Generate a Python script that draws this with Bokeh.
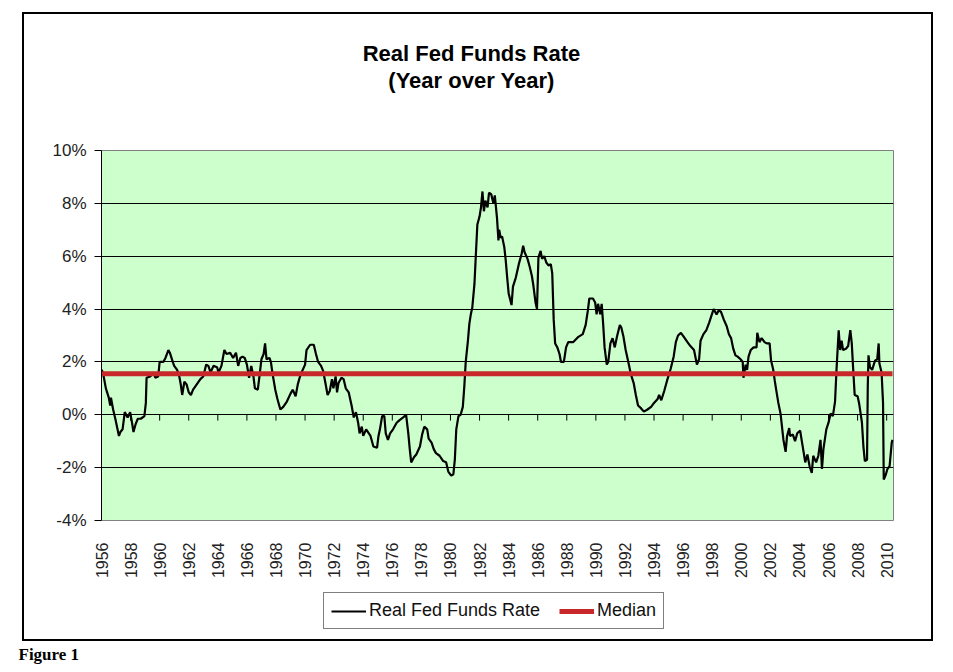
import math

from bokeh.embed import file_html
from bokeh.layouts import column
from bokeh.models import FixedTicker, Label, Legend, LegendItem, Range1d, Title
from bokeh.plotting import figure
from bokeh.resources import INLINE

# Real fed funds rate, year over year (%), sampled at turning points
years = [
    1956.0, 1956.1, 1956.3, 1956.5, 1956.6, 1956.65, 1956.8, 1956.95, 1957.2, 1957.3,
    1957.45, 1957.6, 1957.8, 1957.97, 1958.1, 1958.2, 1958.35, 1958.5, 1958.7, 1958.95,
    1959.05, 1959.1, 1959.35, 1959.6, 1959.7, 1959.9, 1960.0, 1960.25, 1960.4, 1960.6,
    1960.7, 1960.9, 1961.0, 1961.2, 1961.35, 1961.45, 1961.55, 1961.7, 1961.85, 1962.0,
    1962.15, 1962.3, 1962.55, 1962.8, 1963.0, 1963.2, 1963.35, 1963.5, 1963.7, 1963.95,
    1964.05, 1964.25, 1964.45, 1964.6, 1964.85, 1965.05, 1965.25, 1965.4, 1965.55, 1965.7,
    1965.85, 1966.0, 1966.15, 1966.3, 1966.45, 1966.55, 1966.75, 1966.85, 1967.0, 1967.15,
    1967.25, 1967.35, 1967.55, 1967.65, 1967.75, 1967.95, 1968.1, 1968.3, 1968.5, 1968.75,
    1969.0, 1969.15, 1969.35, 1969.5, 1969.65, 1969.8, 1970.0, 1970.1, 1970.35, 1970.6,
    1970.75, 1970.9, 1971.1, 1971.25, 1971.4, 1971.55, 1971.7, 1971.85, 1971.95, 1972.1,
    1972.2, 1972.3, 1972.5, 1972.65, 1972.8, 1973.0, 1973.2, 1973.35, 1973.5, 1973.65,
    1973.75, 1973.9,
    1974.0, 1974.2, 1974.5, 1974.7, 1974.95, 1975.05, 1975.15, 1975.3, 1975.45, 1975.55,
    1975.7, 1975.85, 1976.05, 1976.3, 1976.5, 1976.75, 1976.95, 1977.1, 1977.2, 1977.3,
    1977.5, 1977.65, 1977.9, 1978.05, 1978.2, 1978.4, 1978.5, 1978.7, 1978.85, 1979.0,
    1979.25, 1979.5, 1979.7, 1979.85, 1980.05, 1980.2, 1980.3, 1980.4, 1980.55, 1980.7,
    1980.85, 1980.95, 1981.05, 1981.2, 1981.3, 1981.4, 1981.5, 1981.65, 1981.75, 1981.85,
    1982.0, 1982.1, 1982.2, 1982.3, 1982.4, 1982.55, 1982.65, 1982.8, 1982.95, 1983.05,
    1983.2, 1983.3, 1983.35, 1983.45, 1983.55, 1983.7, 1983.8, 1983.9, 1984.0, 1984.2,
    1984.3, 1984.5, 1984.7, 1984.9, 1985.0, 1985.1, 1985.3, 1985.45, 1985.6, 1985.7,
    1985.85, 1985.95, 1986.05, 1986.2, 1986.3, 1986.45, 1986.6, 1986.75, 1986.9, 1987.0,
    1987.1, 1987.2, 1987.35, 1987.5, 1987.6, 1987.8, 1987.95, 1988.1, 1988.45, 1988.8,
    1989.1, 1989.3, 1989.45, 1989.55, 1989.8, 1989.95, 1990.05, 1990.15, 1990.3, 1990.4,
    1990.5, 1990.6, 1990.75, 1990.85, 1991.0, 1991.15, 1991.3, 1991.45, 1991.65, 1991.75,
    1991.9,
    1992.05, 1992.25, 1992.4, 1992.6, 1992.75, 1992.9, 1993.1, 1993.3, 1993.55, 1993.8,
    1994.0, 1994.25, 1994.35, 1994.5, 1994.7, 1994.9, 1995.15, 1995.35, 1995.5, 1995.65,
    1995.85, 1996.05, 1996.3, 1996.5, 1996.75, 1996.95, 1997.1, 1997.2, 1997.4, 1997.6,
    1997.8, 1997.95, 1998.1, 1998.3, 1998.45, 1998.6, 1998.8, 1999.0, 1999.15, 1999.3,
    1999.45, 1999.6, 1999.75, 1999.95, 2000.1, 2000.15, 2000.3, 2000.4, 2000.5, 2000.65,
    2000.85, 2001.05, 2001.1, 2001.25, 2001.4, 2001.6, 2001.75, 2001.95, 2002.05, 2002.2,
    2002.3, 2002.4, 2002.55, 2002.7, 2002.8, 2002.9, 2003.05, 2003.15, 2003.3, 2003.35,
    2003.55, 2003.7, 2003.85, 2004.05, 2004.15, 2004.3, 2004.4, 2004.55, 2004.7, 2004.85,
    2004.95, 2005.15, 2005.3, 2005.45, 2005.55, 2005.65, 2005.85, 2006.0, 2006.15, 2006.3,
    2006.45, 2006.55, 2006.7, 2006.8, 2006.9, 2007.0, 2007.2, 2007.35, 2007.5, 2007.6,
    2007.7, 2007.8, 2008.0, 2008.1, 2008.3, 2008.4, 2008.5, 2008.65, 2008.7, 2008.75,
    2008.85, 2009.0, 2009.2, 2009.35, 2009.45, 2009.5, 2009.65, 2009.75, 2009.8, 2009.95,
    2010.05, 2010.2, 2010.35, 2010.4,
]
rate = [
    1.7, 1.6, 1.0, 0.65, 0.35, 0.65, 0.2, -0.15, -0.8, -0.65,
    -0.55, 0.1, -0.1, 0.1, -0.3, -0.65, -0.35, -0.15, -0.15, -0.05,
    0.45, 1.4, 1.45, 1.6, 1.4, 1.45, 2.0, 2.0, 2.15, 2.45,
    2.35, 2.0, 1.85, 1.7, 1.45, 1.15, 0.75, 1.25, 1.15, 0.85,
    0.75, 0.95, 1.15, 1.35, 1.45, 1.9, 1.85, 1.6, 1.85, 1.8,
    1.6, 1.85, 2.45, 2.3, 2.35, 2.15, 2.35, 1.85, 2.15, 2.2,
    2.15, 1.9, 1.4, 1.85, 1.45, 1.0, 0.95, 1.4, 2.1, 2.3,
    2.7, 2.1, 2.15, 2.0, 1.6, 0.95, 0.6, 0.2, 0.3, 0.5,
    0.8, 0.95, 0.7, 1.15, 1.45, 1.65, 1.9, 2.45, 2.65, 2.65,
    2.3, 2.0, 1.85, 1.65, 1.2, 0.75, 0.9, 1.35, 1.0, 1.45,
    0.85, 1.2, 1.4, 1.35, 1.0, 0.85, 0.35, -0.1, 0.1, -0.3,
    -0.7, -0.45,
    -0.8, -0.55, -0.8, -1.2, -1.25, -0.8, -0.55, -0.05, -0.05, -0.7,
    -0.95, -0.7, -0.55, -0.3, -0.2, -0.1, 0.0, -0.7, -1.3, -1.8,
    -1.6, -1.5, -1.2, -0.75, -0.45, -0.55, -0.9, -1.05, -1.3, -1.45,
    -1.55, -1.75, -1.8, -2.15, -2.3, -2.25, -1.7, -0.55, -0.05, 0.0,
    0.3, 1.05, 2.0, 2.8, 3.45, 3.8, 4.05, 4.95, 6.1, 7.2,
    7.5, 7.85, 8.45, 7.7, 8.1, 7.85, 8.4, 8.35, 8.0, 8.3,
    7.45, 6.6, 7.0, 6.7, 6.75, 6.35, 5.85, 5.2, 4.6, 4.15,
    4.85, 5.2, 5.7, 6.1, 6.4, 6.15, 5.9, 5.6, 5.25, 4.9,
    4.25, 4.0, 5.95, 6.2, 5.9, 6.0, 5.75, 5.65, 5.7, 5.35,
    3.6, 2.7, 2.55, 2.3, 2.0, 2.0, 2.55, 2.75, 2.75, 2.95,
    3.05, 3.4, 3.95, 4.4, 4.4, 4.25, 3.8, 4.2, 3.8, 4.2,
    3.45, 2.55, 1.9, 2.0, 2.7, 2.9, 2.55, 2.95, 3.4, 3.3,
    2.95,
    2.45, 1.95, 1.55, 1.2, 0.75, 0.35, 0.25, 0.12, 0.2, 0.3,
    0.45, 0.6, 0.75, 0.55, 0.9, 1.3, 1.75, 2.2, 2.75, 3.0,
    3.1, 2.95, 2.75, 2.6, 2.45, 1.9, 2.1, 2.8, 3.05, 3.2,
    3.5, 3.75, 4.0, 3.8, 3.95, 3.9, 3.6, 3.35, 3.05, 2.9,
    2.5, 2.25, 2.2, 2.1, 2.0, 1.4, 1.9, 1.7, 2.2, 2.45,
    2.55, 2.55, 3.1, 2.75, 2.9, 2.75, 2.7, 2.7, 2.05, 1.7,
    1.3, 0.95, 0.45, 0.05, -0.45, -0.95, -1.4, -0.8, -0.5, -0.8,
    -0.75, -1.0, -0.7, -0.6, -0.95, -1.45, -1.8, -1.5, -1.95, -2.2,
    -1.55, -1.8, -1.55, -0.95, -2.05, -1.3, -0.55, -0.3, 0.05, -0.05,
    0.5, 1.7, 3.2, 2.45, 2.8, 2.45, 2.5, 2.6, 3.2, 2.7,
    1.7, 0.75, 0.7, 0.45, -0.3, -1.2, -1.75, -1.7, 1.05, 2.25,
    1.8, 1.7, 2.05, 2.1, 2.7, 1.95, 1.6, 0.45, -2.45, -2.25,
    -2.05, -1.95, -1.05, -0.95,
]
median_rate = 1.55

year_labels = [str(y) for y in range(1956, 2011, 2)]
pct_labels = ["-4%", "-2%", "0%", "2%", "4%", "6%", "8%", "10%"]

tick_years = [int(s) for s in year_labels]
pct_values = [int(s.rstrip("%")) for s in pct_labels]

FONT = "Liberation Sans"
RATE_STYLE = dict(line_color="black", line_width=2.2)
MEDIAN_STYLE = dict(line_color="#C8282A", line_width=5)

# the chart box (23..932 x 13..640) is painted by the page background behind
# transparent canvases
frame_css = ", ".join([
    "linear-gradient(#000,#000) 23px 12px / 910px 2px no-repeat",
    "linear-gradient(#000,#000) 23px 639px / 910px 2px no-repeat",
    "linear-gradient(#000,#000) 22px 12px / 2px 629px no-repeat",
    "linear-gradient(#000,#000) 931px 12px / 2px 629px no-repeat",
    "#ffffff",
])


def blank_panel(**size):
    """A bare canvas with no axes, used for texts around the chart."""
    b = figure(width=953, output_backend="svg", toolbar_location=None,
               x_axis_location=None, y_axis_location=None,
               x_range=Range1d(0, 1), y_range=Range1d(0, 1), min_border=0,
               background_fill_alpha=0, border_fill_alpha=0, outline_line_color=None,
               **size)
    b.grid.visible = False
    return b


# ---- titles (panel frame spans x 101..893 of the page) ----
head = blank_panel(height=110)
head.add_layout(Label(x=370, y=57, x_units="screen", y_units="screen",
                      text="Real Fed Funds Rate", text_align="center", text_baseline="middle",
                      text_font=FONT, text_font_style="bold", text_font_size="22px",
                      text_color="black"))
head.add_layout(Label(x=370, y=30, x_units="screen", y_units="screen",
                      text="(Year over Year)", text_align="center", text_baseline="middle",
                      text_font=FONT, text_font_style="bold", text_font_size="22px",
                      text_color="black"))

# ---- main chart ----
p = figure(
    frame_width=792, frame_height=370,
    output_backend="svg", toolbar_location=None,
    x_range=Range1d(1956.0, 2010.47), y_range=Range1d(-4, 10),
    min_border_left=101, min_border_right=60,
    min_border_top=40, min_border_bottom=72,
    background_fill_color="#CCFFCC",
    border_fill_color="white", border_fill_alpha=0,
    outline_line_color="#808080", outline_line_width=1,
)

# y axis: percent ticks with black horizontal gridlines
p.yaxis.ticker = FixedTicker(ticks=pct_values)
p.yaxis.major_label_overrides = {v: s for v, s in zip(pct_values, pct_labels)}
p.yaxis.major_label_text_font = FONT
p.yaxis.major_label_text_font_size = "17px"
p.yaxis.major_label_text_color = "#222222"
p.yaxis.major_tick_out = 7
p.yaxis.major_tick_in = 0
p.yaxis.major_label_standoff = 8
p.yaxis.minor_tick_line_color = None
p.yaxis.axis_line_color = "black"
p.yaxis.major_tick_line_color = "black"
p.ygrid.ticker = FixedTicker(ticks=pct_values)
p.ygrid.grid_line_color = "black"
p.ygrid.grid_line_width = 1
p.xgrid.grid_line_color = None

# x axis: vertical year labels along the bottom of the plot area
p.xaxis.ticker = FixedTicker(ticks=tick_years)
p.xaxis.major_label_overrides = {v: s for v, s in zip(tick_years, year_labels)}
p.xaxis.major_label_orientation = math.pi / 2
p.xaxis.major_label_text_font = FONT
p.xaxis.major_label_text_font_size = "16px"
p.xaxis.major_label_text_color = "#222222"
p.xaxis.major_tick_line_color = None
p.xaxis.minor_tick_line_color = None
p.xaxis.axis_line_color = None
p.xaxis.major_label_standoff = 16

# short tick marks hanging below the zero line at each labelled year
tick_depth = 0.22
p.segment(x0=tick_years, y0=[0] * len(tick_years),
          x1=tick_years, y1=[-tick_depth] * len(tick_years),
          line_color="black", line_width=1)

p.line(years, rate, **RATE_STYLE)
p.line([years[0], years[-1]], [median_rate, median_rate], **MEDIAN_STYLE)

# ---- legend and caption ----
foot = blank_panel(frame_height=46)
# legend keys: the same series, which fall outside this panel's unit ranges
key_rate = foot.line(years, rate, **RATE_STYLE)
key_median = foot.line([years[0], years[-1]], [median_rate, median_rate], **MEDIAN_STYLE)
foot.add_layout(Legend(
    items=[LegendItem(label="Real Fed Funds Rate", renderers=[key_rate]),
           LegendItem(label="Median", renderers=[key_median])],
    location=(222, 9), orientation="horizontal",
    border_line_color="black", border_line_width=1,
    background_fill_color="white", background_fill_alpha=1,
    label_text_font=FONT, label_text_font_size="18px", label_text_color="#111111",
    glyph_width=35, glyph_height=20, label_standoff=3, spacing=19,
    padding=7, margin=0,
))
foot.add_layout(Title(text="Figure 1", align="left", offset=-83, standoff=8,
                      text_font="Liberation Serif", text_font_style="bold",
                      text_font_size="17px", text_color="black"), "below")

page = column(head, p, foot, spacing=0, styles={"background": frame_css})

open("out.html", "w").write(file_html(page, INLINE))
